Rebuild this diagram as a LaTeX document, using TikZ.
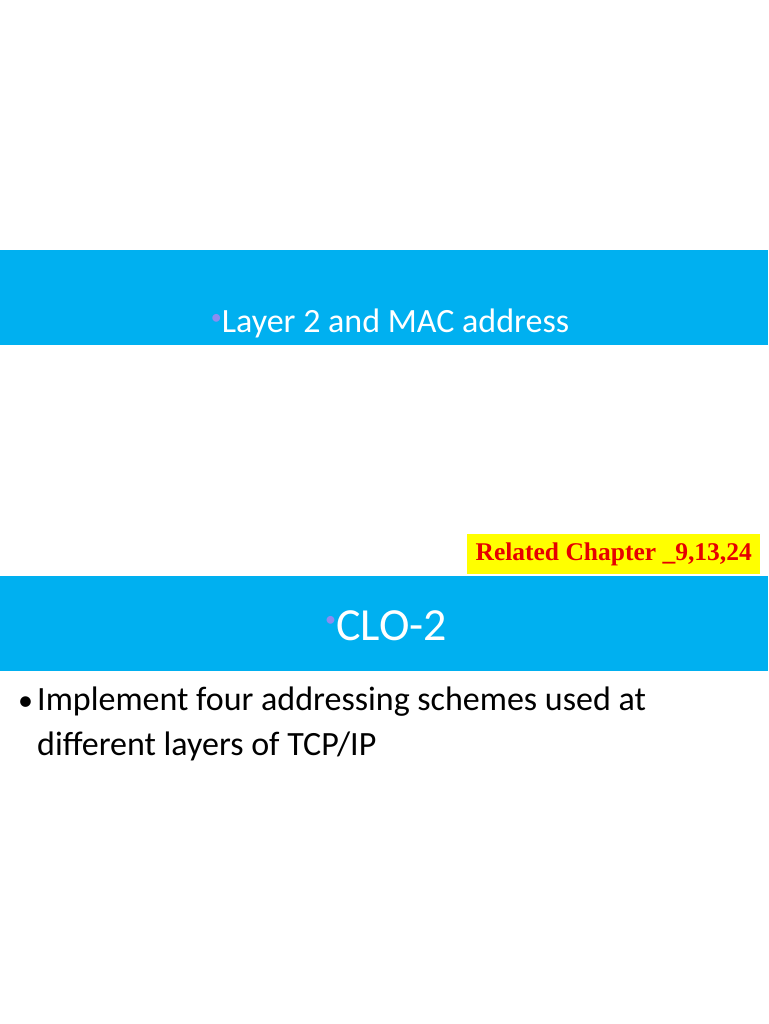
\documentclass[tikz,border=0pt]{standalone}
\usepackage{fontspec}
\setmainfont{Carlito}
\newfontfamily\tnr{Liberation Serif}
\definecolor{band}{RGB}{0,176,240}
\definecolor{bul}{RGB}{140,140,240}
\definecolor{ylw}{RGB}{255,255,0}
\definecolor{rd}{RGB}{230,0,0}
\begin{document}
\begin{tikzpicture}[x=1pt,y=-1pt,
  bandbox/.style={fill=band,draw=none},
  title/.style={text=white,anchor=base,inner sep=0pt}]
\useasboundingbox (0,0) rectangle (768,1024);
\fill[white] (0,0) rectangle (768,1024);
\path[bandbox] (0,250) rectangle (768,345);
\path[bandbox] (0,576) rectangle (768,671);
\node[title,font=\fontsize{34}{40}\selectfont] (t1) at (390,332) {\textcolor{bul}{\fontsize{22}{22}\selectfont\raisebox{8pt}{•}}Layer 2 and MAC address};
\node[title,font=\fontsize{46}{52}\selectfont] (t2) at (386,640) {\textcolor{bul}{\fontsize{22}{22}\selectfont\raisebox{14pt}{•}}CLO-2};
\node[fill=ylw,minimum width=293pt,minimum height=40pt,anchor=north west,inner sep=0pt,text=rd,font=\tnr\bfseries\fontsize{25.5}{28}\selectfont] (rc) at (467,534) {Related Chapter \_9,13,24};
\node[anchor=base west,inner sep=0pt,font=\fontsize{30}{32}\selectfont] (b0) at (18,710) {•};
\node[anchor=base west,inner sep=0pt,font=\fontsize{34}{40}\selectfont] (b1) at (37,710) {Implement four addressing schemes used at};
\node[anchor=base west,inner sep=0pt,font=\fontsize{34}{40}\selectfont] (b2) at (37,755) {different layers of TCP/IP};
\end{tikzpicture}
\end{document}
